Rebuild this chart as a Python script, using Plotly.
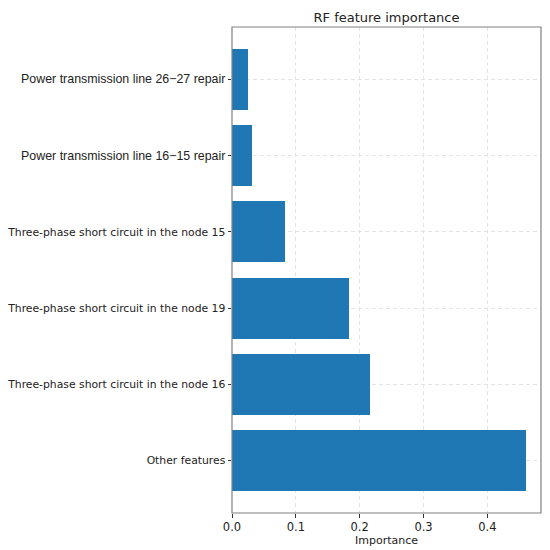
import plotly.graph_objects as go

# features from top to bottom, as drawn
features = [
    'Power transmission line 26\u221227 repair',
    'Power transmission line 16\u221215 repair',
    'Three-phase short circuit in the node 15',
    'Three-phase short circuit in the node 19',
    'Three-phase short circuit in the node 16',
    'Other features',
]
importance = [0.0255, 0.032, 0.083, 0.183, 0.216, 0.4605]
x_ticks = [0.0, 0.1, 0.2, 0.3, 0.4]

BAR_COLOR = '#1f77b4'
SPINE_COLOR = '#808080'
TICK_COLOR = '#333333'
GRID_COLOR = '#e4e4e4'

# page body has an 8px margin, so the figure is made 8px smaller and shifted
PAGE_OFFSET = 8
FIG_SIZE = 550 - PAGE_OFFSET


def tick_label(name):
    # the two "repair" labels are set in a different face in the original
    if 'repair' in name:
        return f'<span style="font-family:Liberation Sans, Arial; font-size:12.4px">{name}</span>'
    return name


fig = go.Figure(go.Bar(
    x=importance, y=features, orientation='h', width=0.8,
    marker=dict(color=BAR_COLOR, line=dict(width=0)),
))

fig.update_layout(
    width=FIG_SIZE, height=FIG_SIZE,
    margin=dict(l=232 - PAGE_OFFSET, r=9, t=26.5 - PAGE_OFFSET, b=37, autoexpand=False),
    paper_bgcolor='white', plot_bgcolor='white',
    font=dict(family='DejaVu Sans', size=10.8, color='#222222'),
    title=dict(text='RF feature importance', x=0.5, xanchor='center', xref='paper',
               y=1 - 9 / FIG_SIZE, yref='container', yanchor='middle',
               font=dict(size=13, color='#222222')),
    showlegend=False,
    bargap=0,
)

# matplotlib-like box around the axes
fig.add_shape(type='rect', xref='paper', yref='paper', x0=0, y0=0, x1=1, y1=1,
              line=dict(color=SPINE_COLOR, width=1.2), fillcolor='rgba(0,0,0,0)', layer='above')

fig.update_xaxes(
    range=[0, 0.484], tickvals=x_ticks, ticktext=[f'{v:.1f}' for v in x_ticks],
    showgrid=True, gridcolor=GRID_COLOR, griddash='4px,3px', gridwidth=1,
    zeroline=False, showline=False,
    ticks='outside', ticklen=3.5, tickcolor=TICK_COLOR, tickfont=dict(size=11.5),
    title=dict(text='Importance', standoff=0, font=dict(size=11)),
    automargin=False,
)

fig.update_yaxes(
    categoryorder='array', categoryarray=features,
    tickvals=features, ticktext=[tick_label(f) for f in features],
    range=[len(features) - 1 + 0.69, -0.69],
    showgrid=True, gridcolor=GRID_COLOR, griddash='4px,3px', gridwidth=1,
    zeroline=False, showline=False,
    ticks='outside', ticklen=3.5, tickcolor=TICK_COLOR, tickfont=dict(size=10.8),
    automargin=False,
)

fig.write_html('out.html')
